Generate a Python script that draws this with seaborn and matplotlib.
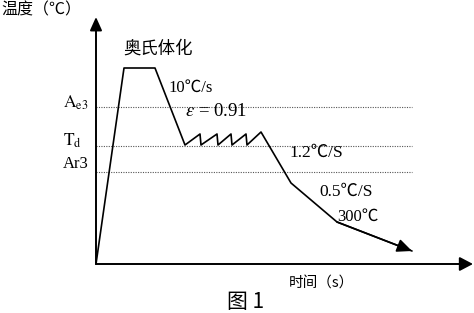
import matplotlib
matplotlib.use("Agg")
import matplotlib.pyplot as plt
import seaborn as sns
import pandas as pd

# ---- data (time / temperature in schematic units) ----
path_time = [0, 28, 59, 89, 104, 105, 121, 122, 135, 136, 150, 151, 165, 195, 241, 316]
path_temp = [0, 196, 196, 119, 130, 119, 130, 119, 130, 119, 130, 119, 132, 81, 42, 13]

level_names = ["Ae3", "Td", "Ar3"]
level_temps = [157, 118, 92]
level_end = 316

axis_time_max = 377
axis_temp_max = 247

sns.set_theme(style="white")
plt.rcParams['font.family'] = ['Liberation Serif', 'Noto Sans CJK SC', 'DejaVu Sans']
plt.rcParams['mathtext.fontset'] = 'stix'

fig = plt.figure(figsize=(4.74, 3.13), dpi=100)
ax = fig.add_axes([0, 0, 1, 1])
ax.set_xlim(-96, 378)
ax.set_ylim(-49, 264)
ax.axis('off')

# reference levels
for T in level_temps:
    ax.hlines(T, 0, level_end, colors='#555555', linestyles=(0, (1, 1.2)), lw=0.8)

# path
df = pd.DataFrame({"time": path_time, "temp": path_temp})
sns.lineplot(data=df, x="time", y="temp", sort=False, estimator=None,
             color='black', lw=1.2, ax=ax)
ax.annotate('', xy=(path_time[-1], path_temp[-1]), xytext=(path_time[-2], path_temp[-2]),
            arrowprops=dict(arrowstyle='-|>,head_length=0.9,head_width=0.4', mutation_scale=10,
                            color='black', lw=1.2, shrinkA=0, shrinkB=0))

# axes arrows
ax.annotate('', xy=(0, axis_temp_max), xytext=(0, 0),
            arrowprops=dict(arrowstyle='-|>,head_length=0.8,head_width=0.36', mutation_scale=10,
                            color='black', lw=1.4, shrinkA=0, shrinkB=0))
ax.annotate('', xy=(axis_time_max, 0), xytext=(0, 0),
            arrowprops=dict(arrowstyle='-|>,head_length=0.8,head_width=0.42', mutation_scale=10,
                            color='black', lw=1.4, shrinkA=0, shrinkB=0))

cjk = ['Noto Sans CJK SC', 'DejaVu Sans']
ax.text(-95, 254, '温度（℃）', family=cjk, fontsize=11.5, ha='left', va='center', color='black')
ax.text(27, 215, '奥氏体化', family=cjk, fontsize=12.5, ha='left', va='center', color='black')
ax.text(72, 176, '10℃/s', fontsize=12, ha='left', va='center', color='black')
ax.text(-33, 161, r'$\mathrm{A}_{\mathrm{e3}}$', fontsize=12.5, ha='left', va='center', color='black')
ax.text(89, 153, r'$\varepsilon$ = 0.91', fontsize=13.5, ha='left', va='center', color='black')
ax.text(-33, 123, r'$\mathrm{T}_{\mathrm{d}}$', fontsize=12.5, ha='left', va='center', color='black')
ax.text(-33, 100, 'Ar3', fontsize=12, ha='left', va='center', color='black')
ax.text(193, 111, '1.2℃/S', fontsize=12.5, ha='left', va='center', color='black')
ax.text(223, 72, '0.5℃/S', fontsize=12.5, ha='left', va='center', color='black')
ax.text(241, 47, '300℃', fontsize=12, ha='left', va='center', color='black')
ax.text(193, -20, '时间（s）', family=cjk, fontsize=10.5, ha='left', va='center', color='black')
ax.text(131, -38, '图 1', family=cjk, fontsize=15, ha='left', va='center', color='black')

fig.savefig('out.png', dpi=100, facecolor='white')
